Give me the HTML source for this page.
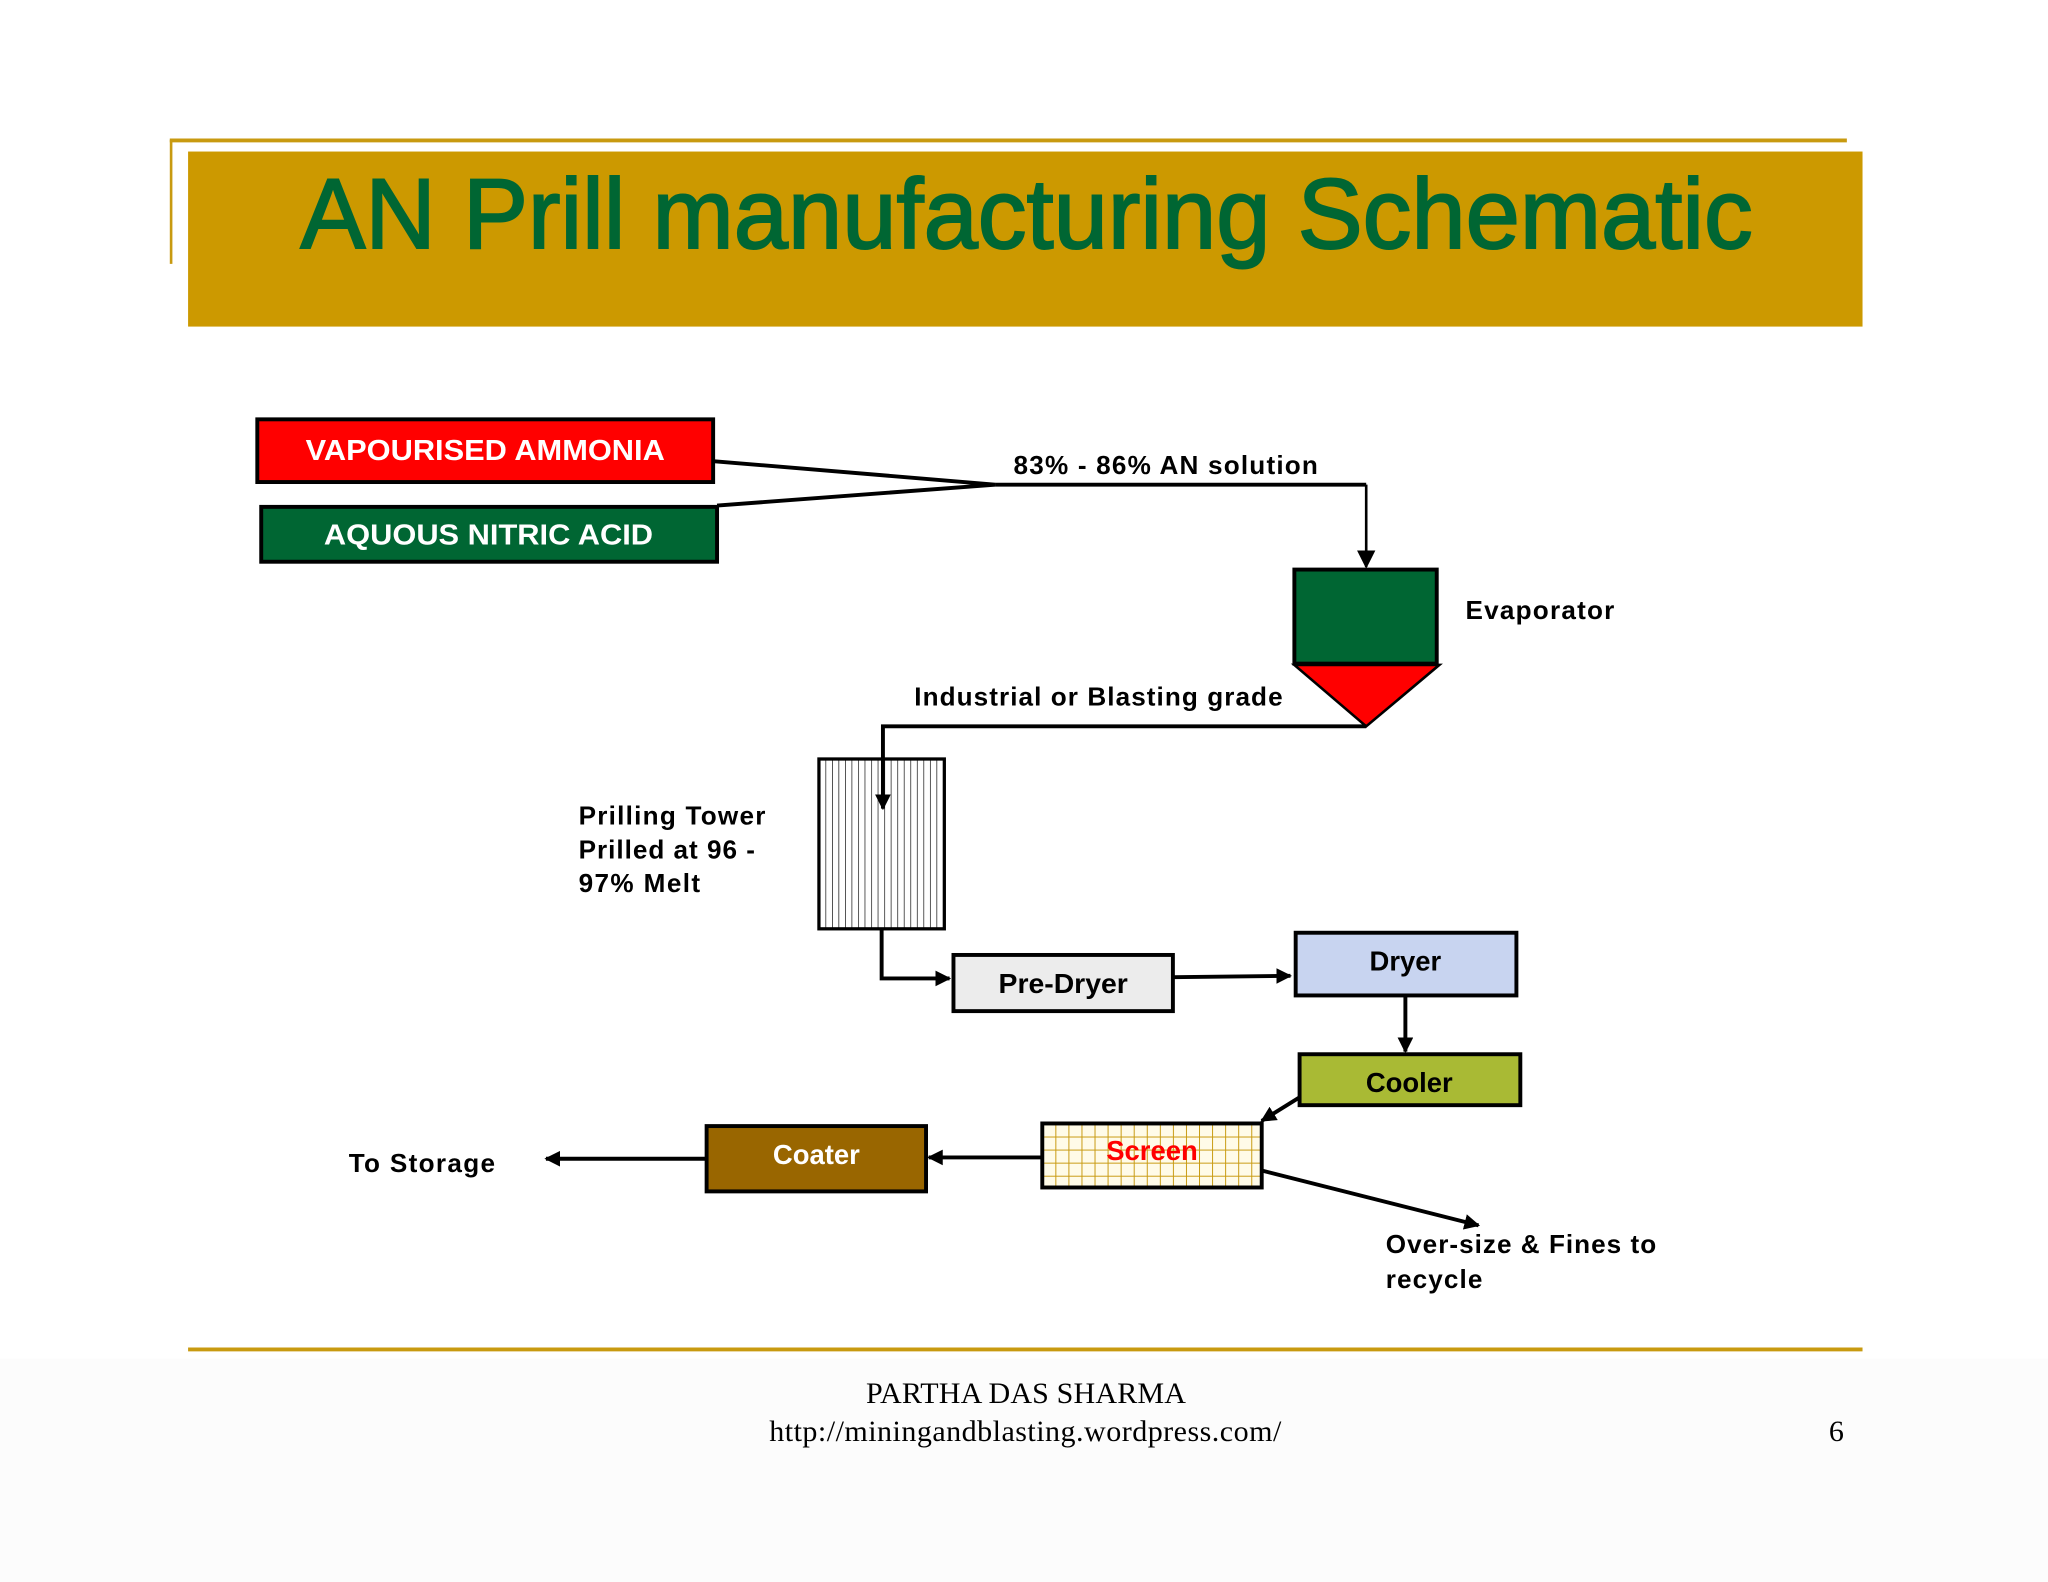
<!DOCTYPE html>
<html><head><meta charset="utf-8"><style>
html,body{margin:0;padding:0;background:#fff;}
svg{display:block;}
</style></head><body>
<svg width="2048" height="1582" viewBox="0 0 1568 1211" preserveAspectRatio="none" xmlns="http://www.w3.org/2000/svg">
<defs>
<marker id="ar" viewBox="0 0 10 10" refX="9" refY="5" markerWidth="4" markerHeight="4" orient="auto-start-reverse" markerUnits="strokeWidth">
<path d="M0,0 L10,5 L0,10 z" fill="#000"/></marker>
<marker id="ar2" viewBox="0 0 10 10" refX="9" refY="5" markerWidth="7" markerHeight="7" orient="auto" markerUnits="strokeWidth">
<path d="M0,0 L10,5 L0,10 z" fill="#000"/></marker>
<pattern id="grid" width="10" height="10" patternUnits="userSpaceOnUse" x="798" y="860">
<rect width="10" height="10" fill="#fffbe8"/><path d="M0,0 H10 M0,0 V10" stroke="#c89a10" stroke-width="1.5"/></pattern>
<pattern id="stripes" width="5" height="10" patternUnits="userSpaceOnUse" x="627">
<rect width="5" height="10" fill="#fff"/><path d="M0,0 V10" stroke="#000" stroke-width="1"/></pattern>
</defs>
<rect x="0" y="1040" width="1568" height="171" fill="#fcfcfc"/>
<line x1="130" y1="107.5" x2="1414" y2="107.5" stroke="#c89a10" stroke-width="3"/>
<line x1="131" y1="107" x2="131" y2="202" stroke="#c89a10" stroke-width="2"/>
<rect x="144" y="116" width="1282" height="134" fill="#cc9900"/>
<text x="230" y="190" font-family="Liberation Sans, sans-serif" font-size="76" fill="#006633" stroke="#006633" stroke-width="1.5" textLength="1112" lengthAdjust="spacingAndGlyphs">AN  Prill manufacturing Schematic</text>
<rect x="197" y="321" width="349" height="48" fill="#ff0000" stroke="#000" stroke-width="3"/>
<text x="234" y="352" font-family="Liberation Sans, sans-serif" font-weight="bold" font-size="22" fill="#fff" textLength="275" lengthAdjust="spacingAndGlyphs">VAPOURISED AMMONIA</text>
<rect x="200" y="388" width="349" height="42" fill="#006633" stroke="#000" stroke-width="3"/>
<text x="248" y="417" font-family="Liberation Sans, sans-serif" font-weight="bold" font-size="22" fill="#fff" textLength="252" lengthAdjust="spacingAndGlyphs">AQUOUS NITRIC ACID</text>
<g stroke="#000" fill="none">
<polyline points="546,353 762,371 549,387" stroke-width="3"/>
<line x1="762" y1="371" x2="1046" y2="371" stroke-width="3"/>
<line x1="1046" y1="371" x2="1046" y2="434" stroke-width="2" marker-end="url(#ar2)"/>
</g>
<g font-family="Liberation Sans, sans-serif" font-weight="bold" font-size="20" lengthAdjust="spacingAndGlyphs">
<text x="776" y="363" textLength="233">83% - 86% AN solution</text>
<text x="1122" y="474" textLength="114">Evaporator</text>
<text x="700" y="540" textLength="282">Industrial or Blasting grade</text>
<text x="443" y="631" textLength="143">Prilling Tower</text>
<text x="443" y="657" textLength="135">Prilled at 96 -</text>
<text x="443" y="683" textLength="93">97% Melt</text>
<text x="267" y="897" textLength="112">To Storage</text>
<text x="1061" y="959" textLength="207">Over-size &amp; Fines to</text>
<text x="1061" y="986" textLength="74">recycle</text>
</g>
<rect x="991" y="436" width="109" height="72" fill="#006633" stroke="#000" stroke-width="3"/>
<polygon points="991,509 1102,509 1046,556" fill="#ff0000" stroke="#000" stroke-width="2"/>
<rect x="627" y="581" width="96" height="130" fill="url(#stripes)" stroke="#000" stroke-width="2.5"/>
<polyline points="1046,556 676,556 676,619" fill="none" stroke="#000" stroke-width="3" marker-end="url(#ar)"/>
<polyline points="675,711 675,749 727,749" fill="none" stroke="#000" stroke-width="3" marker-end="url(#ar)"/>
<rect x="730" y="731" width="168" height="43" fill="#ececec" stroke="#000" stroke-width="3"/>
<text x="814" y="760" text-anchor="middle" font-family="Liberation Sans, sans-serif" font-weight="bold" font-size="21" textLength="99" lengthAdjust="spacingAndGlyphs">Pre-Dryer</text>
<line x1="898" y1="748" x2="988" y2="747" stroke="#000" stroke-width="3" marker-end="url(#ar)"/>
<rect x="992" y="714" width="169" height="48" fill="#c8d4f0" stroke="#000" stroke-width="3"/>
<text x="1076" y="743" text-anchor="middle" font-family="Liberation Sans, sans-serif" font-weight="bold" font-size="21">Dryer</text>
<line x1="1076" y1="762" x2="1076" y2="805" stroke="#000" stroke-width="3" marker-end="url(#ar)"/>
<rect x="995" y="807" width="169" height="39" fill="#a9ba34" stroke="#000" stroke-width="3"/>
<text x="1079" y="836" text-anchor="middle" font-family="Liberation Sans, sans-serif" font-weight="bold" font-size="21">Cooler</text>
<line x1="995" y1="840" x2="966" y2="858" stroke="#000" stroke-width="3" marker-end="url(#ar)"/>
<rect x="798" y="860" width="168" height="49" fill="url(#grid)" stroke="#000" stroke-width="3"/>
<text x="882" y="888" text-anchor="middle" font-family="Liberation Sans, sans-serif" font-weight="bold" font-size="21" fill="#ff0000">Screen</text>
<line x1="798" y1="886" x2="711" y2="886" stroke="#000" stroke-width="3" marker-end="url(#ar)"/>
<rect x="541" y="862" width="168" height="50" fill="#996600" stroke="#000" stroke-width="3"/>
<text x="625" y="891" text-anchor="middle" font-family="Liberation Sans, sans-serif" font-weight="bold" font-size="21" fill="#fff">Coater</text>
<line x1="541" y1="887" x2="418" y2="887" stroke="#000" stroke-width="3" marker-end="url(#ar)"/>
<line x1="966" y1="896" x2="1132" y2="938" stroke="#000" stroke-width="3" marker-end="url(#ar)"/>
<line x1="144" y1="1033" x2="1426" y2="1033" stroke="#c89a10" stroke-width="3"/>
<g font-family="Liberation Serif, serif" font-size="23" fill="#000" lengthAdjust="spacingAndGlyphs">
<text x="663" y="1074" textLength="245">PARTHA DAS SHARMA</text>
<text x="589" y="1103" textLength="392">http://miningandblasting.wordpress.com/</text>
<text x="1406" y="1103" text-anchor="middle">6</text>
</g>
</svg>
</body></html>
